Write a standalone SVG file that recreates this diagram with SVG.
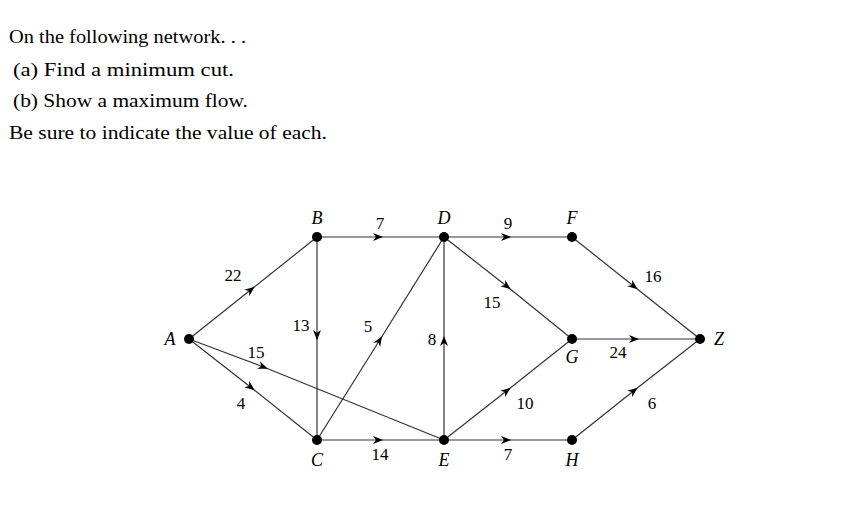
<svg xmlns="http://www.w3.org/2000/svg" width="843" height="513" viewBox="0 0 843 513">
<style>
text{font-family:"Liberation Serif","DejaVu Serif",serif;fill:#000}
.h{font-size:19px}
.n{font-size:17px}
.l{font-size:18px;font-style:italic}
.e{fill:none;stroke:#333;stroke-width:1.2;marker-mid:url(#ar)}
circle{fill:#000}
</style>
<defs>
<marker id="ar" viewBox="0 0 10 10" refX="8" refY="5" markerWidth="10" markerHeight="10" markerUnits="userSpaceOnUse" orient="auto">
<path d="M0,1 L10,5 L0,9 L3,5 Z" fill="#000"/>
</marker>
</defs>
<rect width="843" height="513" fill="#fff"/>
<text class="h" x="9" y="43" textLength="237" lengthAdjust="spacingAndGlyphs">On the following network. . .</text>
<text class="h" x="13" y="76" textLength="221" lengthAdjust="spacingAndGlyphs">(a) Find a minimum cut.</text>
<text class="h" x="13" y="107" textLength="235" lengthAdjust="spacingAndGlyphs">(b) Show a maximum flow.</text>
<text class="h" x="9" y="139" textLength="318" lengthAdjust="spacingAndGlyphs">Be sure to indicate the value of each.</text>
<g id="edges">
<path class="e" d="M189,339 L253,288 L317,237"/>
<path class="e" d="M317,237 L381,237 L444,237"/>
<path class="e" d="M444,237 L509,237 L572,237"/>
<path class="e" d="M317,237 L317,338 L317,440"/>
<path class="e" d="M317,440 L381,338 L444,237"/>
<path class="e" d="M444,440 L444,338 L444,237"/>
<path class="e" d="M444,237 L509,288 L572,339"/>
<path class="e" d="M189,339 L266,368 L444,440"/>
<path class="e" d="M189,339 L253,389 L317,440"/>
<path class="e" d="M317,440 L381,440 L444,440"/>
<path class="e" d="M444,440 L509,389 L572,339"/>
<path class="e" d="M444,440 L509,440 L572,440"/>
<path class="e" d="M572,339 L637,339 L700,339"/>
<path class="e" d="M572,237 L636,288 L700,339"/>
<path class="e" d="M572,440 L636,389 L700,339"/>
</g>
<g id="labels">
<text class="n" x="233" y="281" text-anchor="middle">22</text>
<text class="n" x="380" y="229" text-anchor="middle">7</text>
<text class="n" x="508" y="229" text-anchor="middle">9</text>
<text class="n" x="301" y="331" text-anchor="middle">13</text>
<text class="n" x="368" y="332" text-anchor="middle">5</text>
<text class="n" x="432" y="345" text-anchor="middle">8</text>
<text class="n" x="492" y="308" text-anchor="middle">15</text>
<text class="n" x="256" y="358" text-anchor="middle">15</text>
<text class="n" x="241" y="409" text-anchor="middle">4</text>
<text class="n" x="380" y="460" text-anchor="middle">14</text>
<text class="n" x="525" y="409" text-anchor="middle">10</text>
<text class="n" x="508" y="460" text-anchor="middle">7</text>
<text class="n" x="618" y="358" text-anchor="middle">24</text>
<text class="n" x="653" y="282" text-anchor="middle">16</text>
<text class="n" x="652" y="409" text-anchor="middle">6</text>
</g>
<g id="A"><circle cx="189" cy="339" r="5"/><text class="l" x="170" y="345" text-anchor="middle">A</text></g>
<g id="B"><circle cx="317" cy="237" r="5"/><text class="l" x="317" y="224" text-anchor="middle">B</text></g>
<g id="D"><circle cx="444" cy="237" r="5"/><text class="l" x="444" y="224" text-anchor="middle">D</text></g>
<g id="F"><circle cx="572" cy="237" r="5"/><text class="l" x="572" y="224" text-anchor="middle">F</text></g>
<g id="G"><circle cx="572" cy="339" r="5"/><text class="l" x="572" y="363" text-anchor="middle">G</text></g>
<g id="Z"><circle cx="700" cy="339" r="5"/><text class="l" x="719" y="345" text-anchor="middle">Z</text></g>
<g id="C"><circle cx="317" cy="440" r="5"/><text class="l" x="317" y="466" text-anchor="middle">C</text></g>
<g id="E"><circle cx="444" cy="440" r="5"/><text class="l" x="444" y="466" text-anchor="middle">E</text></g>
<g id="H"><circle cx="572" cy="440" r="5"/><text class="l" x="572" y="466" text-anchor="middle">H</text></g>
</svg>
